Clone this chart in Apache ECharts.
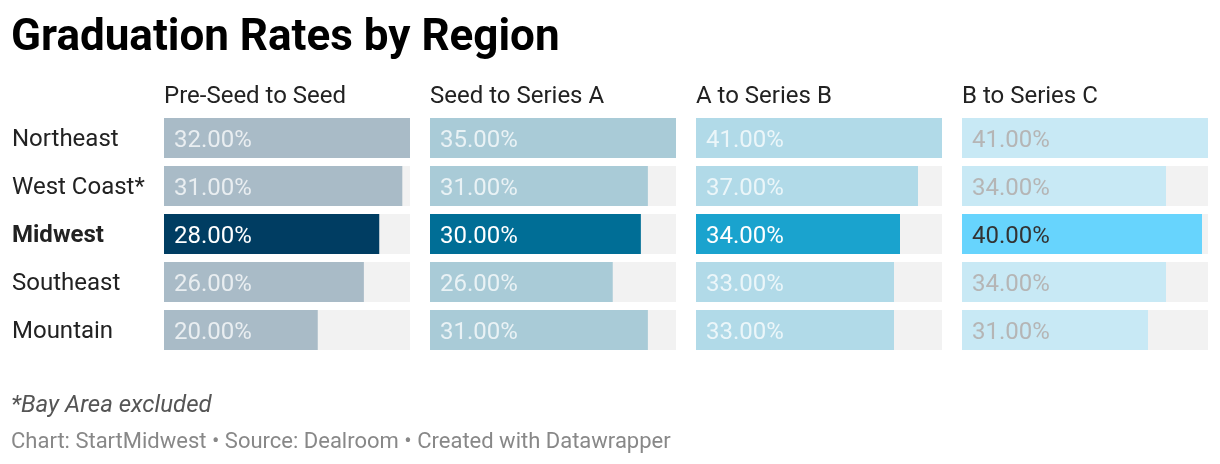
<!DOCTYPE html>
<html><head><meta charset="utf-8">
<script src="https://cdn.jsdelivr.net/npm/echarts@6/dist/echarts.min.js"></script>
<style>html,body{margin:0;padding:0;background:#fff}#c{width:1220px;height:464px}</style>
</head><body><div id="c"></div>
<script>
const regions = ['Northeast', 'West Coast*', 'Midwest', 'Southeast', 'Mountain'];
const stages = ['Pre-Seed to Seed', 'Seed to Series A', 'A to Series B', 'B to Series C'];
const preSeedToSeed = [32, 31, 28, 26, 20];
const seedToSeriesA = [35, 31, 30, 26, 31];
const aToSeriesB = [41, 37, 34, 33, 33];
const bToSeriesC = [41, 34, 40, 34, 31];
const highlight = 'Midwest';
const values = [preSeedToSeed, seedToSeriesA, aToSeriesB, bToSeriesC];

const baseColors = ['#a9bbc7', '#a9cbd7', '#b1dae8', '#c8e9f5'];
const hiColors = ['#003d62', '#006e96', '#1aa3ce', '#67d4fd'];
const labelColors = ['rgba(255,255,255,0.75)', 'rgba(255,255,255,0.75)', 'rgba(255,255,255,0.75)', '#b5b5b5'];
const hiLabelColors = ['#ffffff', '#ffffff', '#ffffff', '#333333'];
const lefts = [164, 430, 696, 962];
const panelW = 246;
const font = 'Roboto, sans-serif';

const chart = echarts.init(document.getElementById('c'), null, {renderer: 'canvas'});
const grid = [], xAxis = [], yAxis = [], series = [], titles = [];
titles.push({text: 'Graduation Rates by Region', left: 11, top: 17, padding: 0,
  textStyle: {fontFamily: font, fontWeight: 'bold', fontSize: 44, color: '#000'}});
stages.forEach((s, i) => {
  grid.push({left: lefts[i], top: 114, width: panelW, height: 240, containLabel: false});
  xAxis.push({type: 'value', gridIndex: i, min: 0, max: 'dataMax', show: false});
  yAxis.push({type: 'category', gridIndex: i, data: regions, inverse: true,
    axisLine: {show: false}, axisTick: {show: false}, splitLine: {show: false},
    axisLabel: {show: i === 0, align: 'left', margin: 152, fontFamily: font, fontSize: 24, color: '#222', padding: [3, 0, 0, 0],
      formatter: v => v === highlight ? '{b|' + v + '}' : v,
      rich: {b: {fontFamily: font, fontSize: 24, fontWeight: 'bold', color: '#222'}}}});
  titles.push({text: s, left: lefts[i], top: 85, padding: 0, textStyle: {fontFamily: font, fontWeight: 'normal', fontSize: 24, color: '#222'}});
  series.push({type: 'bar', xAxisIndex: i, yAxisIndex: i, barWidth: 40,
    showBackground: true, backgroundStyle: {color: '#f2f2f2'},
    data: values[i].map((v, k) => {
      const hi = regions[k] === highlight;
      return {value: v, itemStyle: {color: hi ? hiColors[i] : baseColors[i]},
        label: {color: hi ? hiLabelColors[i] : labelColors[i]}};
    }),
    label: {show: true, position: 'insideLeft', distance: 10, offset: [0, 3], fontFamily: font, fontSize: 24,
      formatter: p => p.value.toFixed(2) + '%'},
    silent: true, animation: false});
});
chart.setOption({
  animation: false,
  title: titles, grid, xAxis, yAxis, series,
  graphic: [
    {type: 'text', left: 11, top: 394, style: {text: '*Bay Area excluded', fontFamily: font, fontStyle: 'italic', fontSize: 24, fill: '#555'}},
    {type: 'text', left: 11, top: 431, style: {text: 'Chart: StartMidwest \u2022 Source: Dealroom \u2022 Created with Datawrapper', fontFamily: font, fontSize: 22, fill: '#888'}}
  ]
});
</script></body></html>
